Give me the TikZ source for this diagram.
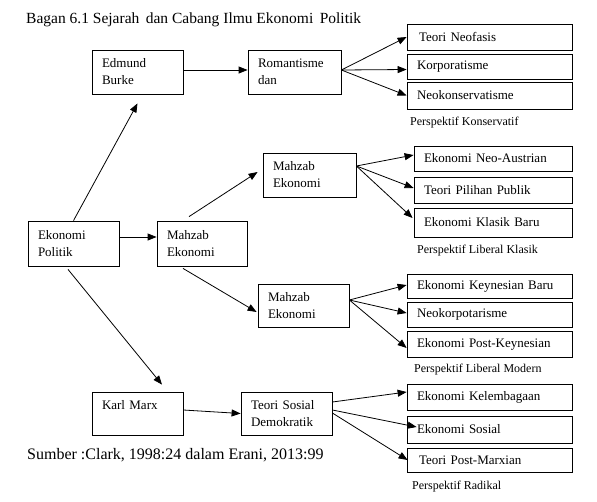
\documentclass[tikz,border=0pt]{standalone}
\usepackage{fontspec}
\setmainfont{Liberation Serif}
\usetikzlibrary{arrows.meta}
\begin{document}
\begin{tikzpicture}[x=1pt,y=-1pt,
  bx/.style n args={2}{draw, line width=0.8pt, rectangle, inner xsep=10pt, inner ysep=0pt,
    align=left, text width=#1, minimum height=#2, anchor=center,
    font=\fontsize{13}{17}\selectfont},
  rbx/.style={bx={145pt}{#1}, inner xsep=10pt},
  lbl/.style={anchor=west, inner sep=0pt, font=\fontsize{12}{14}\selectfont},
  captxt/.style={anchor=west, inner sep=0pt, font=\fontsize{15.5}{18}\selectfont},
  arr/.style={line width=0.8pt, -{Triangle[length=9pt,width=7pt]}}
]
\useasboundingbox (0,0) rectangle (597,501);

\node[captxt] (title) at (26,20) {Bagan 6.1 Sejarah\, dan Cabang Ilmu Ekonomi\, Politik};
\node[captxt, font=\fontsize{16}{18}\selectfont] (src) at (27,455) {Sumber :Clark, 1998:24 dalam Erani, 2013:99};

% left column
\node[bx={71pt}{44pt}] (burke) at (137.5,72) {Edmund\\Burke};
\node[bx={73pt}{44pt}] (roman) at (294.5,72) {Romantisme\\dan};
\node[bx={71pt}{45pt}] (ekpol) at (73.5,243.5) {Ekonomi\\Politik};
\node[bx={70pt}{45pt}] (mahzab) at (202,243.5) {Mahzab\\Ekonomi};
\node[bx={73pt}{44pt}] (mahzabA) at (309.5,175) {Mahzab\\Ekonomi};
\node[bx={71pt}{43pt}] (mahzabB) at (303.5,305.5) {Mahzab\\Ekonomi};
\node[bx={71pt}{43pt}] (marx) at (137.5,413.5) {Karl Marx\\\mbox{}};
\node[bx={71pt}{43pt}] (sosdem) at (286.5,413.5) {Teori Sosial\\Demokratik};

% right column
\node[rbx={26pt}] (neofasis) at (489.5,37) {\hspace*{2pt}Teori Neofasis};
\node[rbx={25pt}] (korpor) at (489.5,66.5) {Korporatisme};
\node[rbx={27pt}] (neokons) at (489.5,95.5) {Neokonservatisme};
\node[lbl] (pk) at (410,123) {Perspektif Konservatif};

\node[bx={138pt}{25pt}] (neoaus) at (493,158.5) {Ekonomi Neo-Austrian};
\node[bx={138pt}{26pt}] (pilihan) at (493,190) {Teori Pilihan Publik};
\node[bx={138pt}{29pt}] (klasik) at (493,222.5) {Ekonomi Klasik Baru};
\node[lbl] (plk) at (417,251) {Perspektif Liberal Klasik};

\node[rbx={24pt}] (keynes) at (489.5,286) {Ekonomi Keynesian Baru};
\node[rbx={25pt}] (neokorp) at (489.5,314.5) {Neokorpotarisme};
\node[rbx={26pt}] (postk) at (489.5,344) {Ekonomi Post-Keynesian};
\node[lbl] (plm) at (414,370) {Perspektif Liberal Modern};

\node[rbx={26pt}] (kelem) at (489.5,397) {Ekonomi Kelembagaan};
\node[rbx={27pt}] (sosial) at (489.5,429.5) {Ekonomi Sosial};
\node[rbx={24pt}] (postm) at (489.5,460) {\hspace*{2pt}Teori Post-Marxian};
\node[lbl] (pr) at (412,487) {Perspektif Radikal};

% connectors
\draw[arr] ([yshift=2pt]burke.east) -- ([yshift=2pt]roman.west);
\draw[arr] (ekpol.north) -- ([yshift=-9pt]burke.south);
\draw[arr] ([yshift=6.5pt]ekpol.east) -- ([yshift=6.5pt]mahzab.west);
\draw[arr] ([xshift=-5.5pt,yshift=-3pt]ekpol.south) -- ([xshift=24.5pt,yshift=7pt]marx.north);
\draw[arr] ([xshift=-13pt,yshift=4pt]mahzab.north) -- ([xshift=-5pt,yshift=3pt]mahzabA.west);
\draw[arr] ([xshift=-19pt,yshift=-2pt]mahzab.south) -- ([xshift=-1pt,yshift=-6.5pt]mahzabB.west);
\draw[arr] ([yshift=3.5pt]marx.east) -- (sosdem.west);

\draw[arr] ([yshift=2pt]roman.east) -- (neofasis.west);
\draw[arr] ([yshift=2pt]roman.east) -- ([yshift=-3pt]korpor.west);
\draw[arr] ([yshift=2pt]roman.east) -- (neokons.west);

\draw[arr] ([yshift=9pt]mahzabA.east) -- ([yshift=3.5pt]neoaus.west);
\draw[arr] ([yshift=9pt]mahzabA.east) -- ([yshift=2pt]pilihan.west);
\draw[arr] ([yshift=9pt]mahzabA.east) -- ([xshift=-1pt,yshift=4.5pt]klasik.west);

\draw[arr] ([yshift=5.5pt]mahzabB.east) -- ([yshift=1pt]keynes.west);
\draw[arr] ([yshift=5.5pt]mahzabB.east) -- ([yshift=1.5pt]neokorp.west);
\draw[arr] ([yshift=5.5pt]mahzabB.east) -- ([yshift=-4pt]postk.west);

\draw[arr] ([yshift=11.5pt]sosdem.east) -- ([yshift=5pt]kelem.west);
\draw[arr] ([yshift=3.5pt]sosdem.east) -- ([xshift=10pt,yshift=2.5pt]sosial.west);
\draw[arr] ([yshift=0.5pt]sosdem.east) -- ([xshift=1pt]postm.west);
\end{tikzpicture}
\end{document}
